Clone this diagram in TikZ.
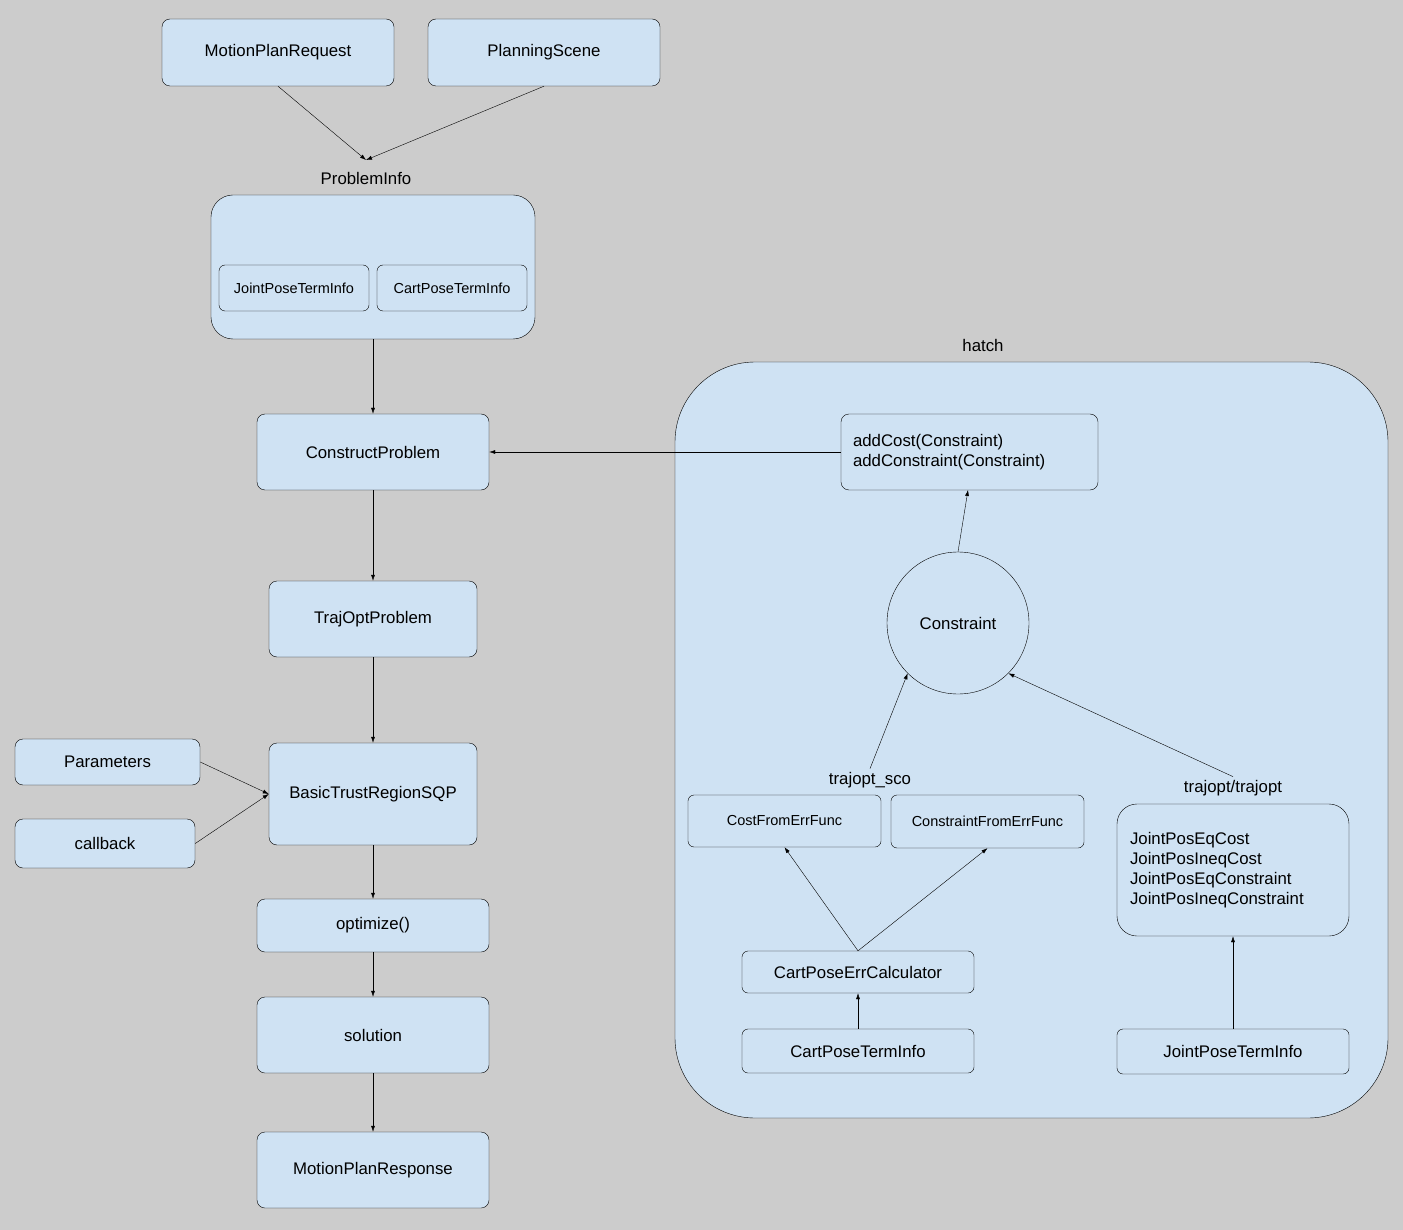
\documentclass[tikz,border=0pt]{standalone}
\usepackage{fontspec}
\setmainfont{Liberation Sans}
\usetikzlibrary{arrows.meta}
\definecolor{bg}{HTML}{CCCCCC}
\definecolor{boxfill}{HTML}{CFE2F3}
\begin{document}
\begin{tikzpicture}[x=1pt,y=-1pt,
  box/.style={draw,fill=boxfill,rounded corners=8pt,inner sep=0pt,font=\fontsize{16.8}{20}\selectfont},
  sbox/.style={box,font=\fontsize{14.5}{17}\selectfont,rounded corners=6pt},
  lbl/.style={font=\fontsize{16.8}{20}\selectfont},
  arr/.style={-{Latex[length=6pt,width=4pt]}}]
\fill[bg] (0,0) rectangle (1403,1230);
\useasboundingbox (0,0) rectangle (1403,1230);
% left column
\node[box,minimum width=232,minimum height=67] (mpr) at (278,52.5) {MotionPlanRequest};
\node[box,minimum width=232,minimum height=67] (ps) at (544,52.5) {PlanningScene};
\coordinate (merge) at (366,160);
\node[lbl] (pilbl) at (366,178) {ProblemInfo};
\node[box,rounded corners=22pt,minimum width=324,minimum height=144] (pi) at (373,267) {};
\node[sbox,minimum width=150,minimum height=46] (jpti) at (294,288) {JointPoseTermInfo};
\node[sbox,minimum width=150,minimum height=46] (cpti) at (452,288) {CartPoseTermInfo};
\node[box,minimum width=232,minimum height=76] (cp) at (373,452) {ConstructProblem};
\node[box,minimum width=208,minimum height=76] (top) at (373,619) {TrajOptProblem};
\node[box,minimum width=208,minimum height=102] (sqp) at (373,794) {BasicTrustRegionSQP};
\node[box,minimum width=185,minimum height=46] (par) at (107.5,762) {Parameters};
\node[box,minimum width=180,minimum height=49] (cb) at (105,843.5) {callback};
\node[box,minimum width=232,minimum height=53] (opt) at (373,925.5) {optimize()};
\node[box,minimum width=232,minimum height=76] (sol) at (373,1035) {solution};
\node[box,minimum width=232,minimum height=76] (resp) at (373,1170) {MotionPlanResponse};
% hatch
\node[lbl] (hlbl) at (983,345) {hatch};
\node[box,rounded corners=80pt,minimum width=713,minimum height=756] (hatch) at (1031.5,740) {};
\node[box,minimum width=257,minimum height=76,align=left,text width=233] (add) at (969.5,452) {addCost(Constraint)\\addConstraint(Constraint)};
\node[draw,fill=boxfill,circle,minimum size=142,inner sep=0pt,font=\fontsize{16.8}{20}\selectfont] (con) at (958,623) {Constraint};
\node[lbl] (sco) at (870,780) {trajopt\_sco};
\node[sbox,minimum width=193,minimum height=52] (cfe) at (784.5,821) {CostFromErrFunc};
\node[sbox,minimum width=193,minimum height=53] (kfe) at (987.5,821.5) {ConstraintFromErrFunc};
\node[lbl] (tt) at (1233,788) {trajopt/trajopt};
\node[box,rounded corners=20pt,minimum width=232,minimum height=132,align=left,text width=206] (tbox) at (1233,870) {JointPosEqCost\\JointPosIneqCost\\JointPosEqConstraint\\JointPosIneqConstraint};
\node[box,rounded corners=6pt,minimum width=232,minimum height=42] (cec) at (858,972) {CartPoseErrCalculator};
\node[box,rounded corners=6pt,minimum width=232,minimum height=44] (cpt2) at (858,1051) {CartPoseTermInfo};
\node[box,rounded corners=6pt,minimum width=232,minimum height=45] (jpt2) at (1233,1051.5) {JointPoseTermInfo};
% connectors
\draw[arr] (mpr.south) -- (merge);
\draw[arr] (ps.south) -- (merge);
\draw[arr] (pi.south) -- (cp.north);
\draw[arr] (cp) -- (top);
\draw[arr] (top) -- (sqp);
\draw[arr] (sqp) -- (opt);
\draw[arr] (opt) -- (sol);
\draw[arr] (sol) -- (resp);
\draw[arr] (par.east) -- (sqp.west);
\draw[arr] (cb.east) -- (sqp.west);
\draw[arr] (add.west) -- (cp.east);
\draw[arr] (con.north) -- (968,490);
\draw[arr] (sco.north) -- (con.225);
\draw[arr] (tt.north) -- (con.-45);
\draw[arr] (cec.north) -- (cfe.south);
\draw[arr] (cec.north) -- (kfe.south);
\draw[arr] (cpt2) -- (cec);
\draw[arr] (jpt2) -- (tbox);
\end{tikzpicture}
\end{document}
